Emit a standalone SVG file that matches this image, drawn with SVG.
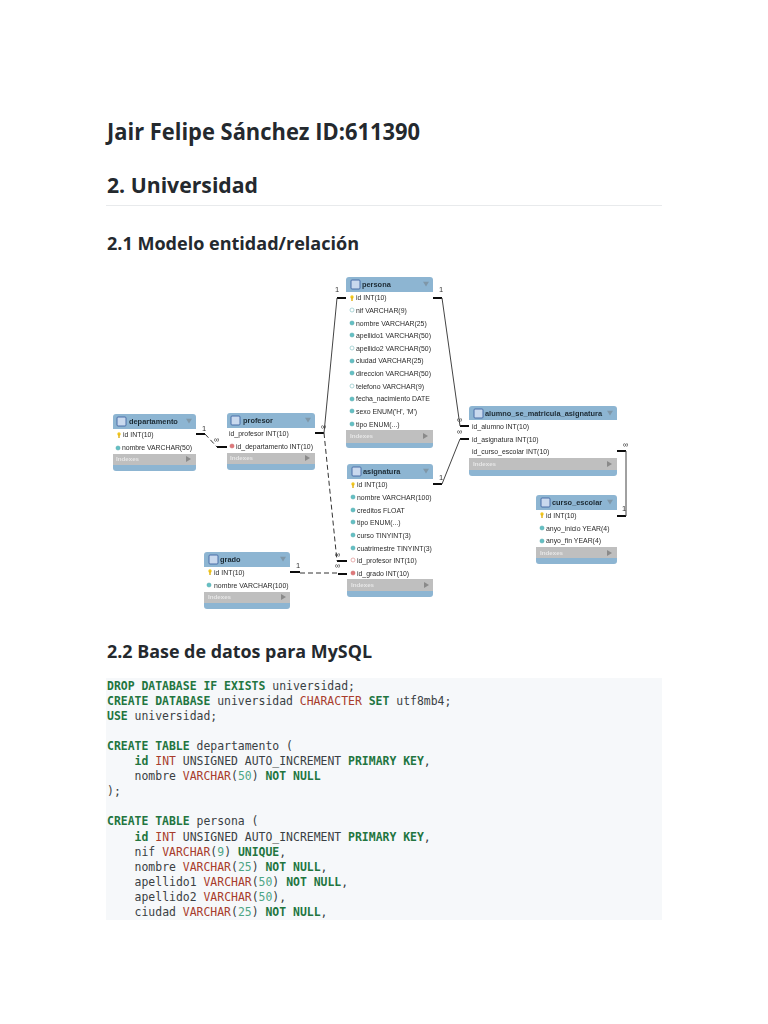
<svg xmlns="http://www.w3.org/2000/svg" width="768" height="1024" viewBox="0 0 768 1024">
<defs>
<style>
.h{font-family:"Open Sans","Noto Sans",sans-serif;font-weight:700;fill:#24292e}
.code{font-family:"DejaVu Sans Mono","Liberation Mono",monospace;font-size:11.45px;fill:#3a3f44}
.k{fill:#22753f;font-weight:700}.t{fill:#a83c2c;font-weight:500}.n{fill:#4da585}
.ti{font-family:"Liberation Sans",Arial,sans-serif;font-size:7.4px;font-weight:700;fill:#1c2a33}
.r{font-family:"Liberation Sans",Arial,sans-serif;font-size:6.9px;fill:#2a2a2a}
.ix{font-family:"Liberation Sans",Arial,sans-serif;font-size:6.2px;font-weight:700;fill:#e6e6e6}
.l{font-family:"Liberation Sans",Arial,sans-serif;font-size:7.5px;fill:#333}
.body{fill:#fff}.head{fill:#8db5d2}.grey{fill:#bfbfbf}
.th{stroke:#111;stroke-width:2;fill:none}.tn{stroke:#444;stroke-width:1;fill:none}.da{stroke:#333;stroke-width:1;fill:none;stroke-dasharray:5 3}
</style>
<filter id="soft" x="-5%" y="-5%" width="110%" height="110%"><feGaussianBlur stdDeviation="0.3"/></filter>
<g id="tico"><rect x="0" y="0" width="9" height="9" rx="1" fill="#c9d9ee" stroke="#4a6fa8" stroke-width="1"/></g>
<path id="dn" d="M-3 -2.2H3L0 2.6Z" fill="#7f97a8"/>
<path id="rt" d="M-2 -3L3 0L-2 3Z" fill="#8a8a8a"/>
<g id="key"><circle cx="0" cy="-1" r="1.7" fill="#f2c81e"/><rect x="-0.7" y="-0.5" width="1.4" height="3.5" fill="#e0b010"/></g>
<circle id="dt" r="2.1" fill="#63c0c4" stroke="#3d9aa0" stroke-width="0.4"/>
<circle id="dw" r="2" fill="#fff" stroke="#8cc5c9" stroke-width="0.7"/>
<circle id="dr" r="2.1" fill="#e0787a" stroke="#c05555" stroke-width="0.4"/>
<circle id="drw" r="2" fill="#fff" stroke="#e09090" stroke-width="0.7"/>
</defs>
<rect width="768" height="1024" fill="#fff"/>
<text class="h" x="107" y="140" font-size="22.500" textLength="313" lengthAdjust="spacingAndGlyphs">Jair Felipe Sánchez ID:611390</text>
<text class="h" x="107" y="193" font-size="22" textLength="151" lengthAdjust="spacingAndGlyphs">2. Universidad</text>
<line x1="106" y1="205.500" x2="662" y2="205.500" stroke="#e8eaec"/>
<text class="h" x="107" y="250" font-size="18" textLength="252" lengthAdjust="spacingAndGlyphs">2.1 Modelo entidad/relación</text>
<text class="h" x="107" y="658" font-size="18" textLength="265" lengthAdjust="spacingAndGlyphs">2.2 Base de datos para MySQL</text>

<g id="diagram" filter="url(#soft)">
<g id="connectors">
<path class="th" d="M196 434H205M217 447H227M315 433H324M337 298H346M433 298H442M460 426H470M433 484H442M460 439H470M617 451H626M626 516H617M290 572H300M338 574H347M337 561H347"/>
<path class="tn" d="M324 433L337 298M442 298L460 426M442 484L460 439M626 451V516"/>
<path class="da" d="M205 434L217 447M324 433L337 561M300 573H338"/>
<text class="l" x="202" y="431">1</text><text class="l" x="214" y="442">∞</text>
<text class="l" x="335" y="292">1</text><text class="l" x="321" y="429">∞</text><text class="l" x="439" y="292">1</text>
<text class="l" x="457" y="422">∞</text><text class="l" x="457" y="434">∞</text><text class="l" x="439" y="480">1</text>
<text class="l" x="623" y="447">∞</text><text class="l" x="622" y="511">1</text>
<text class="l" x="296" y="568">1</text><text class="l" x="335" y="557">∞</text><text class="l" x="335" y="568">∞</text>
</g>

<g id="departamento">
<rect class="head" x="113" y="414" width="83" height="57" rx="3"/><rect class="body" x="113" y="429" width="83" height="25"/><rect class="grey" x="113" y="454" width="83" height="11"/>
<use href="#tico" x="117" y="417"/><text class="ti" x="129" y="424">departamento</text><use href="#dn" x="189" y="421"/>
<use href="#key" x="119" y="435"/><text class="r" x="123" y="437">id INT(10)</text>
<use href="#dt" x="118" y="448"/><text class="r" x="122" y="450" textLength="70">nombre VARCHAR(50)</text>
<text class="ix" x="116" y="461">Indexes</text><use href="#rt" x="188" y="459"/>
</g>

<g id="profesor">
<rect class="head" x="227" y="413" width="88" height="57" rx="3"/><rect class="body" x="227" y="428" width="88" height="25"/><rect class="grey" x="227" y="453" width="88" height="11"/>
<use href="#tico" x="231" y="416"/><text class="ti" x="243" y="423">profesor</text><use href="#dn" x="308" y="420"/>
<text class="r" x="229" y="436">id_profesor INT(10)</text>
<use href="#dr" x="232" y="446"/><text class="r" x="236" y="449">id_departamento INT(10)</text>
<text class="ix" x="230" y="460">Indexes</text><use href="#rt" x="307" y="458"/>
</g>

<g id="persona">
<rect class="head" x="346" y="277" width="87" height="171" rx="3"/><rect class="body" x="346" y="292" width="87" height="138"/><rect class="grey" x="346" y="430" width="87" height="13"/>
<use href="#tico" x="351" y="280"/><text class="ti" x="362" y="287">persona</text><use href="#dn" x="426" y="284"/>
<use href="#key" x="352" y="298"/><text class="r" x="356" y="300">id INT(10)</text>
<use href="#dw" x="352" y="310"/><text class="r" x="356" y="312.500">nif VARCHAR(9)</text>
<use href="#dt" x="352" y="323"/><text class="r" x="356" y="325.500">nombre VARCHAR(25)</text>
<use href="#dt" x="352" y="335"/><text class="r" x="356" y="338">apellido1 VARCHAR(50)</text>
<use href="#dw" x="352" y="348"/><text class="r" x="356" y="350.500">apellido2 VARCHAR(50)</text>
<use href="#dt" x="352" y="361"/><text class="r" x="356" y="363">ciudad VARCHAR(25)</text>
<use href="#dt" x="352" y="373"/><text class="r" x="356" y="375.500">direccion VARCHAR(50)</text>
<use href="#dw" x="352" y="386"/><text class="r" x="356" y="388.500">telefono VARCHAR(9)</text>
<use href="#dt" x="352" y="399"/><text class="r" x="356" y="401">fecha_nacimiento DATE</text>
<use href="#dt" x="352" y="411"/><text class="r" x="356" y="413.500">sexo ENUM('H', 'M')</text>
<use href="#dt" x="352" y="424"/><text class="r" x="356" y="426.500">tipo ENUM(...)</text>
<text class="ix" x="350" y="438">Indexes</text><use href="#rt" x="425" y="436"/>
</g>

<g id="alumno_se_matricula_asignatura">
<rect class="head" x="469" y="406" width="148" height="70" rx="3"/><rect class="body" x="469" y="420" width="148" height="38"/><rect class="grey" x="469" y="458" width="148" height="12"/>
<use href="#tico" x="474" y="409"/><text class="ti" x="485" y="416" textLength="117">alumno_se_matricula_asignatura</text><use href="#dn" x="610" y="413"/>
<text class="r" x="472" y="429">id_alumno INT(10)</text>
<text class="r" x="472" y="441.500">id_asignatura INT(10)</text>
<text class="r" x="472" y="454">id_curso_escolar INT(10)</text>
<text class="ix" x="473" y="466">Indexes</text><use href="#rt" x="609" y="464"/>
</g>

<g id="asignatura">
<rect class="head" x="347" y="464" width="86" height="133" rx="3"/><rect class="body" x="347" y="479" width="86" height="100"/><rect class="grey" x="347" y="579" width="86" height="12"/>
<use href="#tico" x="352" y="467"/><text class="ti" x="363" y="474">asignatura</text><use href="#dn" x="426" y="471"/>
<use href="#key" x="353" y="485"/><text class="r" x="357" y="487">id INT(10)</text>
<use href="#dt" x="353" y="497"/><text class="r" x="357" y="500">nombre VARCHAR(100)</text>
<use href="#dt" x="353" y="510"/><text class="r" x="357" y="512.500">creditos FLOAT</text>
<use href="#dt" x="353" y="522"/><text class="r" x="357" y="525">tipo ENUM(...)</text>
<use href="#dt" x="353" y="535"/><text class="r" x="357" y="538">curso TINYINT(3)</text>
<use href="#dt" x="353" y="548"/><text class="r" x="357" y="550.500">cuatrimestre TINYINT(3)</text>
<use href="#drw" x="353" y="560"/><text class="r" x="357" y="563">id_profesor INT(10)</text>
<use href="#dr" x="353" y="573"/><text class="r" x="357" y="575.500">id_grado INT(10)</text>
<text class="ix" x="351" y="587">Indexes</text><use href="#rt" x="426" y="585"/>
</g>

<g id="grado">
<rect class="head" x="204" y="552" width="86" height="57" rx="3"/><rect class="body" x="204" y="567" width="86" height="25"/><rect class="grey" x="204" y="592" width="86" height="11"/>
<use href="#tico" x="209" y="555"/><text class="ti" x="220" y="562">grado</text><use href="#dn" x="283" y="559"/>
<use href="#key" x="210" y="572"/><text class="r" x="214" y="575">id INT(10)</text>
<use href="#dt" x="209" y="585"/><text class="r" x="214" y="587.500">nombre VARCHAR(100)</text>
<text class="ix" x="208" y="599">Indexes</text><use href="#rt" x="283" y="597"/>
</g>

<g id="curso_escolar">
<rect class="head" x="536" y="495" width="81" height="69" rx="3"/><rect class="body" x="536" y="510" width="81" height="37"/><rect class="grey" x="536" y="547" width="81" height="11"/>
<use href="#tico" x="541" y="498"/><text class="ti" x="552" y="505">curso_escolar</text><use href="#dn" x="610" y="502"/>
<use href="#key" x="542" y="515"/><text class="r" x="546" y="518">id INT(10)</text>
<use href="#dt" x="542" y="528"/><text class="r" x="546" y="530.500">anyo_inicio YEAR(4)</text>
<use href="#dt" x="542" y="541"/><text class="r" x="546" y="543">anyo_fin YEAR(4)</text>
<text class="ix" x="540" y="555">Indexes</text><use href="#rt" x="609" y="553"/>
</g>
</g>

<rect x="106" y="678" width="556" height="242" fill="#f6f8fa"/>
<g id="code" class="code">
<text x="107" y="690"><tspan class="k">DROP DATABASE IF EXISTS</tspan> universidad;</text>
<text x="107" y="705"><tspan class="k">CREATE DATABASE</tspan> universidad <tspan class="t">CHARACTER</tspan> <tspan class="k">SET</tspan> utf8mb4;</text>
<text x="107" y="720"><tspan class="k">USE</tspan> universidad;</text>
<text x="107" y="750"><tspan class="k">CREATE TABLE</tspan> departamento (</text>
<text x="134.600" y="765"><tspan class="k">id</tspan> <tspan class="t">INT</tspan> UNSIGNED AUTO_INCREMENT <tspan class="k">PRIMARY KEY</tspan>,</text>
<text x="134.600" y="780">nombre <tspan class="t">VARCHAR</tspan>(<tspan class="n">50</tspan>) <tspan class="k">NOT NULL</tspan></text>
<text x="107" y="795">);</text>
<text x="107" y="825"><tspan class="k">CREATE TABLE</tspan> persona (</text>
<text x="134.600" y="841"><tspan class="k">id</tspan> <tspan class="t">INT</tspan> UNSIGNED AUTO_INCREMENT <tspan class="k">PRIMARY KEY</tspan>,</text>
<text x="134.600" y="856">nif <tspan class="t">VARCHAR</tspan>(<tspan class="n">9</tspan>) <tspan class="k">UNIQUE</tspan>,</text>
<text x="134.600" y="871">nombre <tspan class="t">VARCHAR</tspan>(<tspan class="n">25</tspan>) <tspan class="k">NOT NULL</tspan>,</text>
<text x="134.600" y="886">apellido1 <tspan class="t">VARCHAR</tspan>(<tspan class="n">50</tspan>) <tspan class="k">NOT NULL</tspan>,</text>
<text x="134.600" y="901">apellido2 <tspan class="t">VARCHAR</tspan>(<tspan class="n">50</tspan>),</text>
<text x="134.600" y="916">ciudad <tspan class="t">VARCHAR</tspan>(<tspan class="n">25</tspan>) <tspan class="k">NOT NULL</tspan>,</text>
</g>
</svg>
